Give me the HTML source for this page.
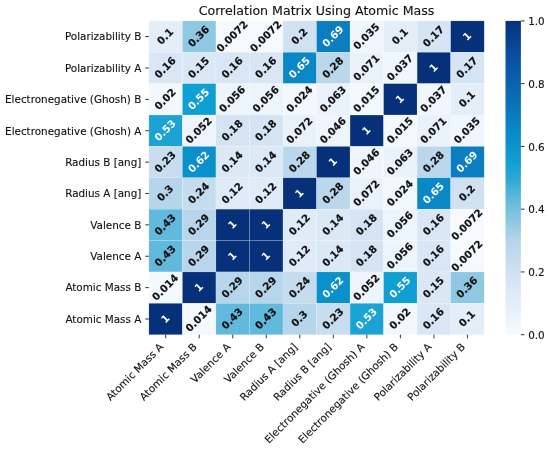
<!DOCTYPE html>
<html><head><meta charset="utf-8"><title>Correlation Matrix Using Atomic Mass</title>
<style>html,body{margin:0;padding:0;background:#fff}svg{display:block}</style></head>
<body>
<svg width="550" height="451" viewBox="0 0 550 451" font-family="'DejaVu Sans', 'Liberation Sans', sans-serif">
<rect width="550" height="451" fill="#ffffff"/>
<g stroke="#ffffff" stroke-width="0.5" stroke-opacity="0.3">
<rect x="148.90" y="20.90" width="33.53" height="31.38" fill="#e3eef9"/>
<rect x="182.43" y="20.90" width="33.53" height="31.38" fill="#8fc8e2"/>
<rect x="215.96" y="20.90" width="33.53" height="31.38" fill="#f6faff"/>
<rect x="249.49" y="20.90" width="33.53" height="31.38" fill="#f6faff"/>
<rect x="283.02" y="20.90" width="33.53" height="31.38" fill="#d0e1f2"/>
<rect x="316.55" y="20.90" width="33.53" height="31.38" fill="#0a7ec1"/>
<rect x="350.08" y="20.90" width="33.53" height="31.38" fill="#f0f6fd"/>
<rect x="383.61" y="20.90" width="33.53" height="31.38" fill="#e3eef9"/>
<rect x="417.14" y="20.90" width="33.53" height="31.38" fill="#d6e5f4"/>
<rect x="450.67" y="20.90" width="33.53" height="31.38" fill="#06317a"/>
<rect x="148.90" y="52.28" width="33.53" height="31.38" fill="#d8e6f5"/>
<rect x="182.43" y="52.28" width="33.53" height="31.38" fill="#dae8f6"/>
<rect x="215.96" y="52.28" width="33.53" height="31.38" fill="#d8e6f5"/>
<rect x="249.49" y="52.28" width="33.53" height="31.38" fill="#d8e6f5"/>
<rect x="283.02" y="52.28" width="33.53" height="31.38" fill="#0a88c6"/>
<rect x="316.55" y="52.28" width="33.53" height="31.38" fill="#bad7ec"/>
<rect x="350.08" y="52.28" width="33.53" height="31.38" fill="#e9f2fb"/>
<rect x="383.61" y="52.28" width="33.53" height="31.38" fill="#f0f6fd"/>
<rect x="417.14" y="52.28" width="33.53" height="31.38" fill="#06317a"/>
<rect x="450.67" y="52.28" width="33.53" height="31.38" fill="#d6e5f4"/>
<rect x="148.90" y="83.66" width="33.53" height="31.38" fill="#f3f8fe"/>
<rect x="182.43" y="83.66" width="33.53" height="31.38" fill="#109fd2"/>
<rect x="215.96" y="83.66" width="33.53" height="31.38" fill="#ecf4fc"/>
<rect x="249.49" y="83.66" width="33.53" height="31.38" fill="#ecf4fc"/>
<rect x="283.02" y="83.66" width="33.53" height="31.38" fill="#f2f8fe"/>
<rect x="316.55" y="83.66" width="33.53" height="31.38" fill="#eaf3fb"/>
<rect x="350.08" y="83.66" width="33.53" height="31.38" fill="#f4f9fe"/>
<rect x="383.61" y="83.66" width="33.53" height="31.38" fill="#06317a"/>
<rect x="417.14" y="83.66" width="33.53" height="31.38" fill="#f0f6fd"/>
<rect x="450.67" y="83.66" width="33.53" height="31.38" fill="#e3eef9"/>
<rect x="148.90" y="115.04" width="33.53" height="31.38" fill="#1aa3d4"/>
<rect x="182.43" y="115.04" width="33.53" height="31.38" fill="#edf4fc"/>
<rect x="215.96" y="115.04" width="33.53" height="31.38" fill="#d4e4f3"/>
<rect x="249.49" y="115.04" width="33.53" height="31.38" fill="#d4e4f3"/>
<rect x="283.02" y="115.04" width="33.53" height="31.38" fill="#e9f2fb"/>
<rect x="316.55" y="115.04" width="33.53" height="31.38" fill="#eef5fc"/>
<rect x="350.08" y="115.04" width="33.53" height="31.38" fill="#06317a"/>
<rect x="383.61" y="115.04" width="33.53" height="31.38" fill="#f4f9fe"/>
<rect x="417.14" y="115.04" width="33.53" height="31.38" fill="#e9f2fb"/>
<rect x="450.67" y="115.04" width="33.53" height="31.38" fill="#f0f6fd"/>
<rect x="148.90" y="146.42" width="33.53" height="31.38" fill="#c8ddf0"/>
<rect x="182.43" y="146.42" width="33.53" height="31.38" fill="#0a90ca"/>
<rect x="215.96" y="146.42" width="33.53" height="31.38" fill="#dbe9f6"/>
<rect x="249.49" y="146.42" width="33.53" height="31.38" fill="#dbe9f6"/>
<rect x="283.02" y="146.42" width="33.53" height="31.38" fill="#bad7ec"/>
<rect x="316.55" y="146.42" width="33.53" height="31.38" fill="#06317a"/>
<rect x="350.08" y="146.42" width="33.53" height="31.38" fill="#eef5fc"/>
<rect x="383.61" y="146.42" width="33.53" height="31.38" fill="#eaf3fb"/>
<rect x="417.14" y="146.42" width="33.53" height="31.38" fill="#bad7ec"/>
<rect x="450.67" y="146.42" width="33.53" height="31.38" fill="#0a7ec1"/>
<rect x="148.90" y="177.80" width="33.53" height="31.38" fill="#b5d5ea"/>
<rect x="182.43" y="177.80" width="33.53" height="31.38" fill="#c5dcef"/>
<rect x="215.96" y="177.80" width="33.53" height="31.38" fill="#dfebf8"/>
<rect x="249.49" y="177.80" width="33.53" height="31.38" fill="#dfebf8"/>
<rect x="283.02" y="177.80" width="33.53" height="31.38" fill="#06317a"/>
<rect x="316.55" y="177.80" width="33.53" height="31.38" fill="#bad7ec"/>
<rect x="350.08" y="177.80" width="33.53" height="31.38" fill="#e9f2fb"/>
<rect x="383.61" y="177.80" width="33.53" height="31.38" fill="#f2f8fe"/>
<rect x="417.14" y="177.80" width="33.53" height="31.38" fill="#0a88c6"/>
<rect x="450.67" y="177.80" width="33.53" height="31.38" fill="#d0e1f2"/>
<rect x="148.90" y="209.18" width="33.53" height="31.38" fill="#62b9de"/>
<rect x="182.43" y="209.18" width="33.53" height="31.38" fill="#b8d6eb"/>
<rect x="215.96" y="209.18" width="33.53" height="31.38" fill="#06317a"/>
<rect x="249.49" y="209.18" width="33.53" height="31.38" fill="#06317a"/>
<rect x="283.02" y="209.18" width="33.53" height="31.38" fill="#dfebf8"/>
<rect x="316.55" y="209.18" width="33.53" height="31.38" fill="#dbe9f6"/>
<rect x="350.08" y="209.18" width="33.53" height="31.38" fill="#d4e4f3"/>
<rect x="383.61" y="209.18" width="33.53" height="31.38" fill="#ecf4fc"/>
<rect x="417.14" y="209.18" width="33.53" height="31.38" fill="#d8e6f5"/>
<rect x="450.67" y="209.18" width="33.53" height="31.38" fill="#f6faff"/>
<rect x="148.90" y="240.56" width="33.53" height="31.38" fill="#62b9de"/>
<rect x="182.43" y="240.56" width="33.53" height="31.38" fill="#b8d6eb"/>
<rect x="215.96" y="240.56" width="33.53" height="31.38" fill="#06317a"/>
<rect x="249.49" y="240.56" width="33.53" height="31.38" fill="#06317a"/>
<rect x="283.02" y="240.56" width="33.53" height="31.38" fill="#dfebf8"/>
<rect x="316.55" y="240.56" width="33.53" height="31.38" fill="#dbe9f6"/>
<rect x="350.08" y="240.56" width="33.53" height="31.38" fill="#d4e4f3"/>
<rect x="383.61" y="240.56" width="33.53" height="31.38" fill="#ecf4fc"/>
<rect x="417.14" y="240.56" width="33.53" height="31.38" fill="#d8e6f5"/>
<rect x="450.67" y="240.56" width="33.53" height="31.38" fill="#f6faff"/>
<rect x="148.90" y="271.94" width="33.53" height="31.38" fill="#f4f9fe"/>
<rect x="182.43" y="271.94" width="33.53" height="31.38" fill="#06317a"/>
<rect x="215.96" y="271.94" width="33.53" height="31.38" fill="#b8d6eb"/>
<rect x="249.49" y="271.94" width="33.53" height="31.38" fill="#b8d6eb"/>
<rect x="283.02" y="271.94" width="33.53" height="31.38" fill="#c5dcef"/>
<rect x="316.55" y="271.94" width="33.53" height="31.38" fill="#0a90ca"/>
<rect x="350.08" y="271.94" width="33.53" height="31.38" fill="#edf4fc"/>
<rect x="383.61" y="271.94" width="33.53" height="31.38" fill="#109fd2"/>
<rect x="417.14" y="271.94" width="33.53" height="31.38" fill="#dae8f6"/>
<rect x="450.67" y="271.94" width="33.53" height="31.38" fill="#8fc8e2"/>
<rect x="148.90" y="303.32" width="33.53" height="31.38" fill="#06317a"/>
<rect x="182.43" y="303.32" width="33.53" height="31.38" fill="#f4f9fe"/>
<rect x="215.96" y="303.32" width="33.53" height="31.38" fill="#62b9de"/>
<rect x="249.49" y="303.32" width="33.53" height="31.38" fill="#62b9de"/>
<rect x="283.02" y="303.32" width="33.53" height="31.38" fill="#b5d5ea"/>
<rect x="316.55" y="303.32" width="33.53" height="31.38" fill="#c8ddf0"/>
<rect x="350.08" y="303.32" width="33.53" height="31.38" fill="#1aa3d4"/>
<rect x="383.61" y="303.32" width="33.53" height="31.38" fill="#f3f8fe"/>
<rect x="417.14" y="303.32" width="33.53" height="31.38" fill="#d8e6f5"/>
<rect x="450.67" y="303.32" width="33.53" height="31.38" fill="#e3eef9"/>
</g>
<g font-size="10.20" font-weight="bold" text-anchor="middle" stroke-width="0.2">
<text transform="translate(165.66,36.79) rotate(-45)" dy="2.82" fill="#111111" stroke="#111111">0.1</text>
<text transform="translate(199.19,36.79) rotate(-45)" dy="2.82" fill="#111111" stroke="#111111">0.36</text>
<text transform="translate(232.72,36.79) rotate(-45)" dy="2.82" fill="#111111" stroke="#111111">0.0072</text>
<text transform="translate(266.25,36.79) rotate(-45)" dy="2.82" fill="#111111" stroke="#111111">0.0072</text>
<text transform="translate(299.78,36.79) rotate(-45)" dy="2.82" fill="#111111" stroke="#111111">0.2</text>
<text transform="translate(333.31,36.79) rotate(-45)" dy="2.82" fill="#ffffff" stroke="none">0.69</text>
<text transform="translate(366.84,36.79) rotate(-45)" dy="2.82" fill="#111111" stroke="#111111">0.035</text>
<text transform="translate(400.38,36.79) rotate(-45)" dy="2.82" fill="#111111" stroke="#111111">0.1</text>
<text transform="translate(433.90,36.79) rotate(-45)" dy="2.82" fill="#111111" stroke="#111111">0.17</text>
<text transform="translate(467.43,36.79) rotate(-45)" dy="2.82" fill="#ffffff" stroke="none">1</text>
<text transform="translate(165.66,68.17) rotate(-45)" dy="2.82" fill="#111111" stroke="#111111">0.16</text>
<text transform="translate(199.19,68.17) rotate(-45)" dy="2.82" fill="#111111" stroke="#111111">0.15</text>
<text transform="translate(232.72,68.17) rotate(-45)" dy="2.82" fill="#111111" stroke="#111111">0.16</text>
<text transform="translate(266.25,68.17) rotate(-45)" dy="2.82" fill="#111111" stroke="#111111">0.16</text>
<text transform="translate(299.78,68.17) rotate(-45)" dy="2.82" fill="#ffffff" stroke="none">0.65</text>
<text transform="translate(333.31,68.17) rotate(-45)" dy="2.82" fill="#111111" stroke="#111111">0.28</text>
<text transform="translate(366.84,68.17) rotate(-45)" dy="2.82" fill="#111111" stroke="#111111">0.071</text>
<text transform="translate(400.38,68.17) rotate(-45)" dy="2.82" fill="#111111" stroke="#111111">0.037</text>
<text transform="translate(433.90,68.17) rotate(-45)" dy="2.82" fill="#ffffff" stroke="none">1</text>
<text transform="translate(467.43,68.17) rotate(-45)" dy="2.82" fill="#111111" stroke="#111111">0.17</text>
<text transform="translate(165.66,99.55) rotate(-45)" dy="2.82" fill="#111111" stroke="#111111">0.02</text>
<text transform="translate(199.19,99.55) rotate(-45)" dy="2.82" fill="#ffffff" stroke="none">0.55</text>
<text transform="translate(232.72,99.55) rotate(-45)" dy="2.82" fill="#111111" stroke="#111111">0.056</text>
<text transform="translate(266.25,99.55) rotate(-45)" dy="2.82" fill="#111111" stroke="#111111">0.056</text>
<text transform="translate(299.78,99.55) rotate(-45)" dy="2.82" fill="#111111" stroke="#111111">0.024</text>
<text transform="translate(333.31,99.55) rotate(-45)" dy="2.82" fill="#111111" stroke="#111111">0.063</text>
<text transform="translate(366.84,99.55) rotate(-45)" dy="2.82" fill="#111111" stroke="#111111">0.015</text>
<text transform="translate(400.38,99.55) rotate(-45)" dy="2.82" fill="#ffffff" stroke="none">1</text>
<text transform="translate(433.90,99.55) rotate(-45)" dy="2.82" fill="#111111" stroke="#111111">0.037</text>
<text transform="translate(467.43,99.55) rotate(-45)" dy="2.82" fill="#111111" stroke="#111111">0.1</text>
<text transform="translate(165.66,130.93) rotate(-45)" dy="2.82" fill="#ffffff" stroke="none">0.53</text>
<text transform="translate(199.19,130.93) rotate(-45)" dy="2.82" fill="#111111" stroke="#111111">0.052</text>
<text transform="translate(232.72,130.93) rotate(-45)" dy="2.82" fill="#111111" stroke="#111111">0.18</text>
<text transform="translate(266.25,130.93) rotate(-45)" dy="2.82" fill="#111111" stroke="#111111">0.18</text>
<text transform="translate(299.78,130.93) rotate(-45)" dy="2.82" fill="#111111" stroke="#111111">0.072</text>
<text transform="translate(333.31,130.93) rotate(-45)" dy="2.82" fill="#111111" stroke="#111111">0.046</text>
<text transform="translate(366.84,130.93) rotate(-45)" dy="2.82" fill="#ffffff" stroke="none">1</text>
<text transform="translate(400.38,130.93) rotate(-45)" dy="2.82" fill="#111111" stroke="#111111">0.015</text>
<text transform="translate(433.90,130.93) rotate(-45)" dy="2.82" fill="#111111" stroke="#111111">0.071</text>
<text transform="translate(467.43,130.93) rotate(-45)" dy="2.82" fill="#111111" stroke="#111111">0.035</text>
<text transform="translate(165.66,162.31) rotate(-45)" dy="2.82" fill="#111111" stroke="#111111">0.23</text>
<text transform="translate(199.19,162.31) rotate(-45)" dy="2.82" fill="#ffffff" stroke="none">0.62</text>
<text transform="translate(232.72,162.31) rotate(-45)" dy="2.82" fill="#111111" stroke="#111111">0.14</text>
<text transform="translate(266.25,162.31) rotate(-45)" dy="2.82" fill="#111111" stroke="#111111">0.14</text>
<text transform="translate(299.78,162.31) rotate(-45)" dy="2.82" fill="#111111" stroke="#111111">0.28</text>
<text transform="translate(333.31,162.31) rotate(-45)" dy="2.82" fill="#ffffff" stroke="none">1</text>
<text transform="translate(366.84,162.31) rotate(-45)" dy="2.82" fill="#111111" stroke="#111111">0.046</text>
<text transform="translate(400.38,162.31) rotate(-45)" dy="2.82" fill="#111111" stroke="#111111">0.063</text>
<text transform="translate(433.90,162.31) rotate(-45)" dy="2.82" fill="#111111" stroke="#111111">0.28</text>
<text transform="translate(467.43,162.31) rotate(-45)" dy="2.82" fill="#ffffff" stroke="none">0.69</text>
<text transform="translate(165.66,193.69) rotate(-45)" dy="2.82" fill="#111111" stroke="#111111">0.3</text>
<text transform="translate(199.19,193.69) rotate(-45)" dy="2.82" fill="#111111" stroke="#111111">0.24</text>
<text transform="translate(232.72,193.69) rotate(-45)" dy="2.82" fill="#111111" stroke="#111111">0.12</text>
<text transform="translate(266.25,193.69) rotate(-45)" dy="2.82" fill="#111111" stroke="#111111">0.12</text>
<text transform="translate(299.78,193.69) rotate(-45)" dy="2.82" fill="#ffffff" stroke="none">1</text>
<text transform="translate(333.31,193.69) rotate(-45)" dy="2.82" fill="#111111" stroke="#111111">0.28</text>
<text transform="translate(366.84,193.69) rotate(-45)" dy="2.82" fill="#111111" stroke="#111111">0.072</text>
<text transform="translate(400.38,193.69) rotate(-45)" dy="2.82" fill="#111111" stroke="#111111">0.024</text>
<text transform="translate(433.90,193.69) rotate(-45)" dy="2.82" fill="#ffffff" stroke="none">0.65</text>
<text transform="translate(467.43,193.69) rotate(-45)" dy="2.82" fill="#111111" stroke="#111111">0.2</text>
<text transform="translate(165.66,225.07) rotate(-45)" dy="2.82" fill="#111111" stroke="#111111">0.43</text>
<text transform="translate(199.19,225.07) rotate(-45)" dy="2.82" fill="#111111" stroke="#111111">0.29</text>
<text transform="translate(232.72,225.07) rotate(-45)" dy="2.82" fill="#ffffff" stroke="none">1</text>
<text transform="translate(266.25,225.07) rotate(-45)" dy="2.82" fill="#ffffff" stroke="none">1</text>
<text transform="translate(299.78,225.07) rotate(-45)" dy="2.82" fill="#111111" stroke="#111111">0.12</text>
<text transform="translate(333.31,225.07) rotate(-45)" dy="2.82" fill="#111111" stroke="#111111">0.14</text>
<text transform="translate(366.84,225.07) rotate(-45)" dy="2.82" fill="#111111" stroke="#111111">0.18</text>
<text transform="translate(400.38,225.07) rotate(-45)" dy="2.82" fill="#111111" stroke="#111111">0.056</text>
<text transform="translate(433.90,225.07) rotate(-45)" dy="2.82" fill="#111111" stroke="#111111">0.16</text>
<text transform="translate(467.43,225.07) rotate(-45)" dy="2.82" fill="#111111" stroke="#111111">0.0072</text>
<text transform="translate(165.66,256.45) rotate(-45)" dy="2.82" fill="#111111" stroke="#111111">0.43</text>
<text transform="translate(199.19,256.45) rotate(-45)" dy="2.82" fill="#111111" stroke="#111111">0.29</text>
<text transform="translate(232.72,256.45) rotate(-45)" dy="2.82" fill="#ffffff" stroke="none">1</text>
<text transform="translate(266.25,256.45) rotate(-45)" dy="2.82" fill="#ffffff" stroke="none">1</text>
<text transform="translate(299.78,256.45) rotate(-45)" dy="2.82" fill="#111111" stroke="#111111">0.12</text>
<text transform="translate(333.31,256.45) rotate(-45)" dy="2.82" fill="#111111" stroke="#111111">0.14</text>
<text transform="translate(366.84,256.45) rotate(-45)" dy="2.82" fill="#111111" stroke="#111111">0.18</text>
<text transform="translate(400.38,256.45) rotate(-45)" dy="2.82" fill="#111111" stroke="#111111">0.056</text>
<text transform="translate(433.90,256.45) rotate(-45)" dy="2.82" fill="#111111" stroke="#111111">0.16</text>
<text transform="translate(467.43,256.45) rotate(-45)" dy="2.82" fill="#111111" stroke="#111111">0.0072</text>
<text transform="translate(165.66,287.83) rotate(-45)" dy="2.82" fill="#111111" stroke="#111111">0.014</text>
<text transform="translate(199.19,287.83) rotate(-45)" dy="2.82" fill="#ffffff" stroke="none">1</text>
<text transform="translate(232.72,287.83) rotate(-45)" dy="2.82" fill="#111111" stroke="#111111">0.29</text>
<text transform="translate(266.25,287.83) rotate(-45)" dy="2.82" fill="#111111" stroke="#111111">0.29</text>
<text transform="translate(299.78,287.83) rotate(-45)" dy="2.82" fill="#111111" stroke="#111111">0.24</text>
<text transform="translate(333.31,287.83) rotate(-45)" dy="2.82" fill="#ffffff" stroke="none">0.62</text>
<text transform="translate(366.84,287.83) rotate(-45)" dy="2.82" fill="#111111" stroke="#111111">0.052</text>
<text transform="translate(400.38,287.83) rotate(-45)" dy="2.82" fill="#ffffff" stroke="none">0.55</text>
<text transform="translate(433.90,287.83) rotate(-45)" dy="2.82" fill="#111111" stroke="#111111">0.15</text>
<text transform="translate(467.43,287.83) rotate(-45)" dy="2.82" fill="#111111" stroke="#111111">0.36</text>
<text transform="translate(165.66,319.21) rotate(-45)" dy="2.82" fill="#ffffff" stroke="none">1</text>
<text transform="translate(199.19,319.21) rotate(-45)" dy="2.82" fill="#111111" stroke="#111111">0.014</text>
<text transform="translate(232.72,319.21) rotate(-45)" dy="2.82" fill="#111111" stroke="#111111">0.43</text>
<text transform="translate(266.25,319.21) rotate(-45)" dy="2.82" fill="#111111" stroke="#111111">0.43</text>
<text transform="translate(299.78,319.21) rotate(-45)" dy="2.82" fill="#111111" stroke="#111111">0.3</text>
<text transform="translate(333.31,319.21) rotate(-45)" dy="2.82" fill="#111111" stroke="#111111">0.23</text>
<text transform="translate(366.84,319.21) rotate(-45)" dy="2.82" fill="#ffffff" stroke="none">0.53</text>
<text transform="translate(400.38,319.21) rotate(-45)" dy="2.82" fill="#111111" stroke="#111111">0.02</text>
<text transform="translate(433.90,319.21) rotate(-45)" dy="2.82" fill="#111111" stroke="#111111">0.16</text>
<text transform="translate(467.43,319.21) rotate(-45)" dy="2.82" fill="#111111" stroke="#111111">0.1</text>
</g>
<g stroke="#111111" stroke-width="0.85">
<line x1="165.66" y1="334.70" x2="165.66" y2="338.34"/>
<line x1="148.90" y1="36.59" x2="145.26" y2="36.59"/>
<line x1="199.19" y1="334.70" x2="199.19" y2="338.34"/>
<line x1="148.90" y1="67.97" x2="145.26" y2="67.97"/>
<line x1="232.72" y1="334.70" x2="232.72" y2="338.34"/>
<line x1="148.90" y1="99.35" x2="145.26" y2="99.35"/>
<line x1="266.25" y1="334.70" x2="266.25" y2="338.34"/>
<line x1="148.90" y1="130.73" x2="145.26" y2="130.73"/>
<line x1="299.78" y1="334.70" x2="299.78" y2="338.34"/>
<line x1="148.90" y1="162.11" x2="145.26" y2="162.11"/>
<line x1="333.31" y1="334.70" x2="333.31" y2="338.34"/>
<line x1="148.90" y1="193.49" x2="145.26" y2="193.49"/>
<line x1="366.84" y1="334.70" x2="366.84" y2="338.34"/>
<line x1="148.90" y1="224.87" x2="145.26" y2="224.87"/>
<line x1="400.38" y1="334.70" x2="400.38" y2="338.34"/>
<line x1="148.90" y1="256.25" x2="145.26" y2="256.25"/>
<line x1="433.90" y1="334.70" x2="433.90" y2="338.34"/>
<line x1="148.90" y1="287.63" x2="145.26" y2="287.63"/>
<line x1="467.43" y1="334.70" x2="467.43" y2="338.34"/>
<line x1="148.90" y1="319.01" x2="145.26" y2="319.01"/>
</g>
<g font-size="10.40" fill="#111111" stroke="#111111" stroke-width="0.12" text-anchor="end">
<text x="141.37" y="40.39">Polarizability B</text>
<text x="141.37" y="71.77">Polarizability A</text>
<text x="141.37" y="103.15">Electronegative (Ghosh) B</text>
<text x="141.37" y="134.53">Electronegative (Ghosh) A</text>
<text x="141.37" y="165.91">Radius B [ang]</text>
<text x="141.37" y="197.29">Radius A [ang]</text>
<text x="141.37" y="228.67">Valence B</text>
<text x="141.37" y="260.05">Valence A</text>
<text x="141.37" y="291.43">Atomic Mass B</text>
<text x="141.37" y="322.81">Atomic Mass A</text>
</g>
<g font-size="10.40" fill="#111111" stroke="#111111" stroke-width="0.12" text-anchor="end">
<text transform="translate(164.12,347.57) rotate(-45)">Atomic Mass A</text>
<text transform="translate(197.65,347.57) rotate(-45)">Atomic Mass B</text>
<text transform="translate(231.18,347.57) rotate(-45)">Valence A</text>
<text transform="translate(264.71,347.57) rotate(-45)">Valence B</text>
<text transform="translate(298.24,347.57) rotate(-45)">Radius A [ang]</text>
<text transform="translate(331.77,347.57) rotate(-45)">Radius B [ang]</text>
<text transform="translate(365.30,347.57) rotate(-45)">Electronegative (Ghosh) A</text>
<text transform="translate(398.83,347.57) rotate(-45)">Electronegative (Ghosh) B</text>
<text transform="translate(432.36,347.57) rotate(-45)">Polarizability A</text>
<text transform="translate(465.89,347.57) rotate(-45)">Polarizability B</text>
</g>
<text x="316.55" y="14.75" font-size="12.60" fill="#111111" stroke="#111111" stroke-width="0.12" text-anchor="middle">Correlation Matrix Using Atomic Mass</text>
<defs><linearGradient id="cb" x1="0" y1="1" x2="0" y2="0">
<stop offset="0.000" stop-color="#f7fbff"/>
<stop offset="0.100" stop-color="#e3eef9"/>
<stop offset="0.200" stop-color="#d0e1f2"/>
<stop offset="0.300" stop-color="#b5d5ea"/>
<stop offset="0.360" stop-color="#8fc8e2"/>
<stop offset="0.430" stop-color="#62b9de"/>
<stop offset="0.500" stop-color="#2aa8d6"/>
<stop offset="0.550" stop-color="#109fd2"/>
<stop offset="0.620" stop-color="#0a90ca"/>
<stop offset="0.700" stop-color="#0a7cc0"/>
<stop offset="0.800" stop-color="#0a62b0"/>
<stop offset="0.900" stop-color="#0a4c9e"/>
<stop offset="1.000" stop-color="#06317a"/>
</linearGradient></defs>
<rect x="505.5" y="20.9" width="15.40" height="313.80" fill="url(#cb)"/>
<g stroke="#111111" stroke-width="0.85">
<line x1="520.90" y1="334.70" x2="524.54" y2="334.70"/>
<line x1="520.90" y1="271.94" x2="524.54" y2="271.94"/>
<line x1="520.90" y1="209.18" x2="524.54" y2="209.18"/>
<line x1="520.90" y1="146.42" x2="524.54" y2="146.42"/>
<line x1="520.90" y1="83.66" x2="524.54" y2="83.66"/>
<line x1="520.90" y1="20.90" x2="524.54" y2="20.90"/>
</g>
<g font-size="10.40" fill="#111111" stroke="#111111" stroke-width="0.12">
<text x="528.18" y="338.80">0.0</text>
<text x="528.18" y="276.04">0.2</text>
<text x="528.18" y="213.28">0.4</text>
<text x="528.18" y="150.52">0.6</text>
<text x="528.18" y="87.76">0.8</text>
<text x="528.18" y="25.00">1.0</text>
</g>
</svg>
</body></html>
